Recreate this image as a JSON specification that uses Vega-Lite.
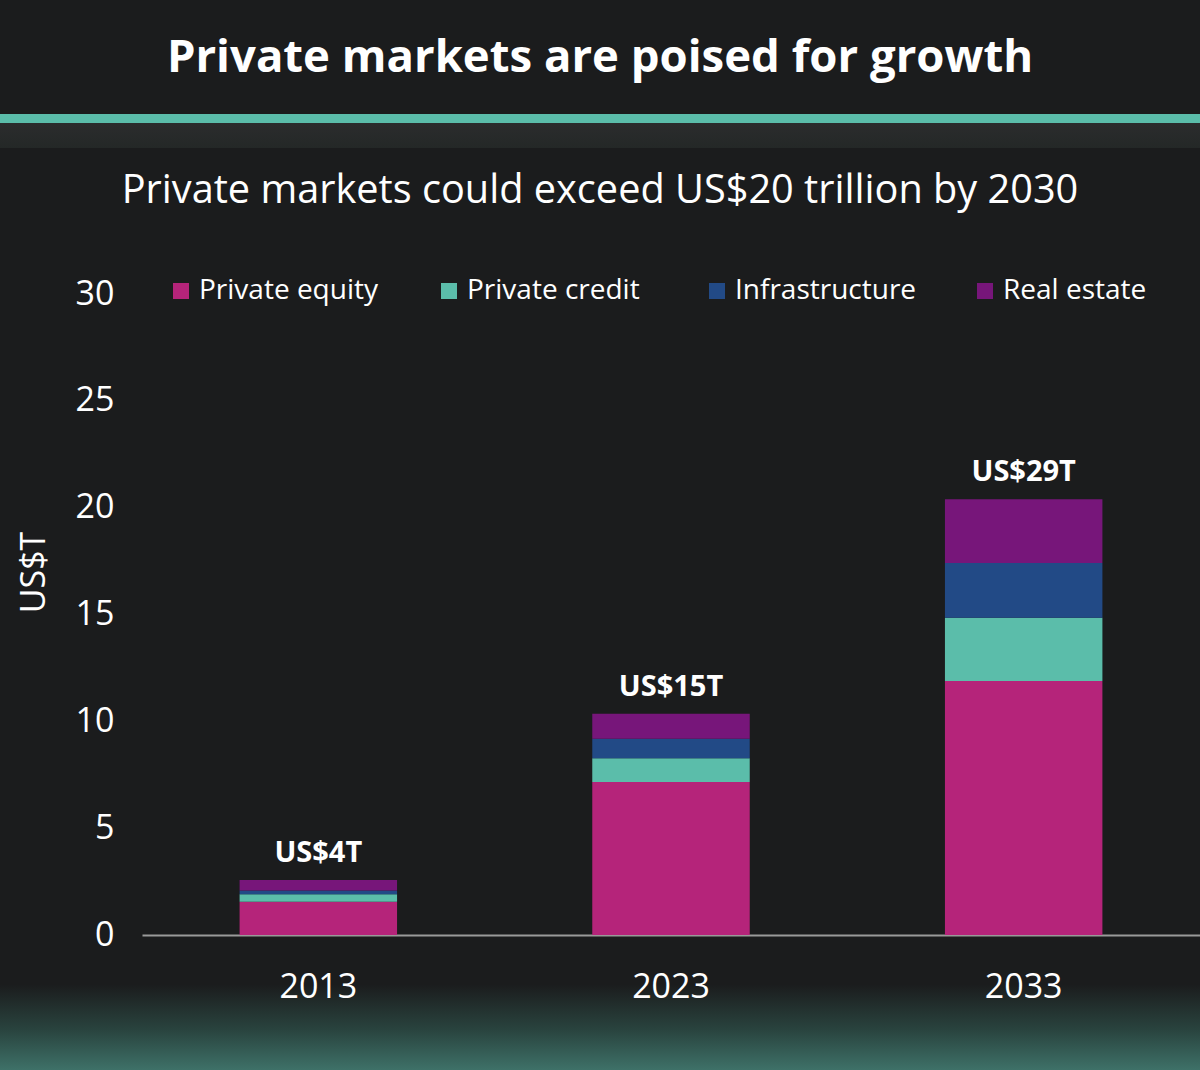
{
  "$schema": "https://vega.github.io/schema/vega-lite/v6.json",
  "width": 1200,
  "height": 1070,
  "autosize": {"type": "none"},
  "padding": 0,
  "background": "#1b1c1d",
  "title": {
    "text": "Private markets are poised for growth",
    "subtitle": "Private markets could exceed US$20 trillion by 2030",
    "anchor": "middle",
    "frame": "group",
    "offset": -211,
    "font": "Open Sans",
    "fontSize": 45.5,
    "fontWeight": "bold",
    "color": "#ffffff",
    "subtitleFont": "Open Sans",
    "subtitleFontSize": 39.7,
    "subtitleFontWeight": "normal",
    "subtitleColor": "#ffffff",
    "subtitlePadding": 91
  },
  "data": {
    "values": [
      {"year": "2013", "category": "Private equity", "idx": 1, "value": 1.56, "label": "US$4T"},
      {"year": "2013", "category": "Private credit", "idx": 2, "value": 0.35, "label": "US$4T"},
      {"year": "2013", "category": "Infrastructure", "idx": 3, "value": 0.17, "label": "US$4T"},
      {"year": "2013", "category": "Real estate", "idx": 4, "value": 0.49, "label": "US$4T"},
      {"year": "2023", "category": "Private equity", "idx": 1, "value": 7.16, "label": "US$15T"},
      {"year": "2023", "category": "Private credit", "idx": 2, "value": 1.11, "label": "US$15T"},
      {"year": "2023", "category": "Infrastructure", "idx": 3, "value": 0.92, "label": "US$15T"},
      {"year": "2023", "category": "Real estate", "idx": 4, "value": 1.16, "label": "US$15T"},
      {"year": "2033", "category": "Private equity", "idx": 1, "value": 11.89, "label": "US$29T"},
      {"year": "2033", "category": "Private credit", "idx": 2, "value": 2.96, "label": "US$29T"},
      {"year": "2033", "category": "Infrastructure", "idx": 3, "value": 2.56, "label": "US$29T"},
      {"year": "2033", "category": "Real estate", "idx": 4, "value": 2.98, "label": "US$29T"}
    ]
  },
  "layer": [
    {
      "mark": {"type": "bar"},
      "encoding": {
        "x": {
          "field": "year", "type": "nominal",
          "scale": {"range": [142, 1200], "paddingInner": 0.5535, "paddingOuter": 0.2767},
          "axis": {
            "title": null, "orient": "bottom", "offset": -135, "labelAngle": 0,
            "ticks": false, "tickSize": 0, "domainColor": "#9a9a9a", "domainWidth": 2,
            "labelPadding": 35, "labelFontSize": 34, "labelColor": "#ffffff", "labelFont": "Open Sans"
          }
        },
        "y": {
          "field": "value", "type": "quantitative", "stack": "zero",
          "scale": {"domain": [0, 30], "range": [935, 294], "nice": false},
          "axis": {
            "title": "US$T", "values": [0, 5, 10, 15, 20, 25, 30], "offset": -150,
            "domain": false, "ticks": false, "tickSize": 0, "grid": false,
            "labelPadding": 36, "labelFontSize": 34, "labelColor": "#ffffff", "labelFont": "Open Sans",
            "titleFont": "Open Sans", "titleFontSize": 34, "titleFontWeight": "normal", "titleColor": "#ffffff",
            "titleX": -116, "titleY": 572, "titleAngle": -90, "titleAlign": "center", "titleBaseline": "middle"
          }
        },
        "color": {
          "field": "category", "type": "nominal",
          "scale": {
            "domain": ["Private equity", "Private credit", "Infrastructure", "Real estate"],
            "range": ["#b5247a", "#5bbdaa", "#224a86", "#77167a"]
          },
          "legend": {
            "orient": "none", "legendX": 167, "legendY": 277, "direction": "horizontal", "title": null,
            "symbolType": "square", "symbolSize": 256, "symbolStrokeWidth": 0, "symbolOpacity": 1,
            "labelFontSize": 28, "labelColor": "#ffffff", "labelFont": "Open Sans", "labelOffset": 4,
            "gridAlign": "all", "columnPadding": 54, "padding": 0, "labelLimit": 400
          }
        },
        "order": {"field": "idx", "type": "quantitative"}
      }
    },
    {
      "transform": [
        {"aggregate": [{"op": "sum", "field": "value", "as": "total"}], "groupby": ["year", "label"]}
      ],
      "mark": {
        "type": "text", "font": "Open Sans", "fontWeight": "bold", "fontSize": 29,
        "color": "#ffffff", "baseline": "alphabetic", "dy": -18
      },
      "encoding": {
        "x": {"field": "year", "type": "nominal"},
        "y": {"field": "total", "type": "quantitative", "title": "US$T"},
        "text": {"field": "label", "type": "nominal"}
      }
    }
  ],
  "config": {
    "view": {
      "stroke": null,
      "fill": {
        "gradient": "linear", "x1": 0, "y1": 0, "x2": 0, "y2": 1,
        "stops": [
          {"offset": 0, "color": "#1b1c1d"},
          {"offset": 0.1061, "color": "#1b1c1d"},
          {"offset": 0.1061, "color": "#5bbdaa"},
          {"offset": 0.1154, "color": "#5bbdaa"},
          {"offset": 0.1154, "color": "#2b2c2d"},
          {"offset": 0.1383, "color": "#242827"},
          {"offset": 0.1383, "color": "#1b1c1d"},
          {"offset": 0.92, "color": "#1b1c1d"},
          {"offset": 0.962, "color": "#29433e"},
          {"offset": 1, "color": "#3e7168"}
        ]
      }
    },
    "font": "Open Sans"
  }
}
